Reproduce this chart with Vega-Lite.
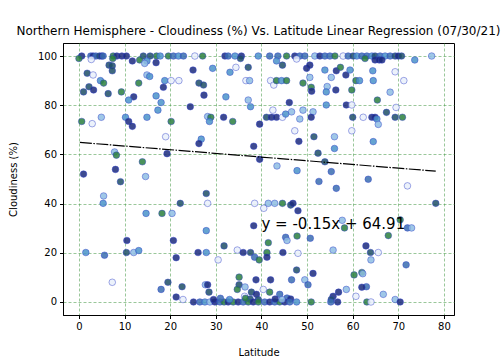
{
 "$schema": "https://vega.github.io/schema/vega-lite/v6.json",
 "width": 391, "height": 272,
 "autosize": "none",
 "padding": {"left": 63, "top": 43, "right": 50, "bottom": 45},
 "background": "white",
 "title": {"text": "Northern Hemisphere - Cloudiness (%) Vs. Latitude Linear Regression (07/30/21)", "font": "DejaVu Sans", "fontSize": 12, "fontWeight": "normal", "color": "black", "offset": 5, "anchor": "middle"},
 "config": {
  "view": {"stroke": "black", "strokeWidth": 1},
  "axis": {"labelFont": "DejaVu Sans", "labelFontSize": 10, "labelColor": "black", "titleFont": "DejaVu Sans", "titleFontSize": 10, "titleFontWeight": "normal", "titleColor": "black", "domainColor": "black", "tickColor": "black", "tickSize": 3.5, "grid": true, "gridColor": "#4a9a4a", "gridOpacity": 0.8, "gridDash": [3, 2], "gridWidth": 0.7, "labelPadding": 3}
 },
 "encoding": {
  "x": {"field": "lat", "type": "quantitative", "scale": {"domain": [-3.5, 82.2], "nice": false, "zero": false}, "axis": {"values": [0, 10, 20, 30, 40, 50, 60, 70, 80], "title": "Latitude", "titlePadding": 16}},
  "y": {"field": "cloud", "type": "quantitative", "scale": {"domain": [-5.3, 105.3], "nice": false, "zero": false}, "axis": {"values": [0, 20, 40, 60, 80, 100], "title": "Cloudiness (%)", "titlePadding": 19}}
 },
 "layer": [
  {
   "data": {"values": [
    {"lat":0.6,"cloud":100,"c":"n"},{"lat":2.6,"cloud":100,"c":"s"},{"lat":3.1,"cloud":100,"c":"n"},{"lat":3.7,"cloud":100,"c":"s"},{"lat":4.5,"cloud":100,"c":"t"},{"lat":5,"cloud":100,"c":"n"},{"lat":5.3,"cloud":100,"c":"s"},{"lat":7.5,"cloud":100,"c":"g"},{"lat":8.3,"cloud":100,"c":"n"},{"lat":9.4,"cloud":100,"c":"n"},{"lat":10.4,"cloud":100,"c":"n"},{"lat":14.1,"cloud":100,"c":"t"},{"lat":15.6,"cloud":100,"c":"t"},{"lat":17,"cloud":100,"c":"g"},{"lat":17.8,"cloud":100,"c":"m"},{"lat":19.6,"cloud":100,"c":"g"},{"lat":20.7,"cloud":100,"c":"s"},{"lat":21.8,"cloud":100,"c":"m"},{"lat":22.9,"cloud":100,"c":"s"},{"lat":25.4,"cloud":100,"c":"p"},
    {"lat":27.1,"cloud":100,"c":"g"},{"lat":32,"cloud":100,"c":"n"},{"lat":32.7,"cloud":100,"c":"s"},{"lat":34.2,"cloud":100,"c":"m"},{"lat":35.6,"cloud":100,"c":"n"},{"lat":39.3,"cloud":100,"c":"m"},{"lat":41.8,"cloud":100,"c":"s"},{"lat":43.6,"cloud":100,"c":"s"},{"lat":45.5,"cloud":100,"c":"g"},{"lat":47.3,"cloud":100,"c":"n"},{"lat":48.4,"cloud":100,"c":"s"},{"lat":49.5,"cloud":100,"c":"s"},{"lat":51.7,"cloud":100,"c":"l"},{"lat":52.8,"cloud":100,"c":"n"},{"lat":53.9,"cloud":100,"c":"s"},{"lat":55,"cloud":100,"c":"s"},{"lat":56.1,"cloud":100,"c":"g"},{"lat":57.9,"cloud":100,"c":"p"},{"lat":59,"cloud":100,"c":"s"},
    {"lat":60.1,"cloud":100,"c":"t"},{"lat":60.9,"cloud":100,"c":"m"},{"lat":62,"cloud":100,"c":"s"},{"lat":63.1,"cloud":100,"c":"s"},{"lat":64.2,"cloud":100,"c":"m"},{"lat":64.9,"cloud":100,"c":"t"},{"lat":66,"cloud":100,"c":"s"},{"lat":67.1,"cloud":100,"c":"m"},{"lat":68.2,"cloud":100,"c":"s"},{"lat":69.3,"cloud":100,"c":"t"},{"lat":70,"cloud":100,"c":"n"},{"lat":70.7,"cloud":100,"c":"t"},{"lat":77.3,"cloud":100,"c":"l"},
    {"lat":0,"cloud":99,"c":"g"},{"lat":2.7,"cloud":98.6,"c":"p"},{"lat":7.4,"cloud":99,"c":"g"},{"lat":11.7,"cloud":98,"c":"n"},{"lat":13.3,"cloud":98.4,"c":"g"},{"lat":14.9,"cloud":98,"c":"m"},{"lat":16.9,"cloud":97.3,"c":"n"},{"lat":6.6,"cloud":96.3,"c":"t"},{"lat":7.3,"cloud":96,"c":"t"},{"lat":14.4,"cloud":97,"c":"l"},{"lat":1.8,"cloud":93,"c":"t"},{"lat":3.1,"cloud":92.3,"c":"p"},{"lat":7.3,"cloud":94,"c":"t"},{"lat":25,"cloud":94.3,"c":"n"},{"lat":14.9,"cloud":92.3,"c":"l"},{"lat":15.5,"cloud":91.7,"c":"m"},{"lat":4.7,"cloud":90,"c":"m"},{"lat":5.4,"cloud":89,"c":"g"},{"lat":13.1,"cloud":89,"c":"g"},{"lat":18.8,"cloud":90,"c":"m"},{"lat":20.2,"cloud":90,"c":"p"},{"lat":21.9,"cloud":90,"c":"p"},{"lat":26.3,"cloud":89,"c":"t"},{"lat":2.2,"cloud":87.5,"c":"t"},{"lat":3.2,"cloud":86.2,"c":"n"},{"lat":1,"cloud":85.4,"c":"t"},{"lat":9.3,"cloud":85.4,"c":"g"},{"lat":6.4,"cloud":84.7,"c":"t"},{"lat":18.5,"cloud":87.3,"c":"n"},{"lat":27.3,"cloud":88.2,"c":"t"},{"lat":12,"cloud":83.4,"c":"n"},{"lat":10.9,"cloud":82.1,"c":"m"},{"lat":16.9,"cloud":83.8,"c":"m"},{"lat":18,"cloud":81.1,"c":"m"},{"lat":24.4,"cloud":79.4,"c":"n"},{"lat":17.3,"cloud":78,"c":"m"},{"lat":28.2,"cloud":75.4,"c":"l"},{"lat":0.6,"cloud":73.4,"c":"g"},{"lat":2.9,"cloud":72.5,"c":"p"},{"lat":4.9,"cloud":75.1,"c":"l"},{"lat":10.2,"cloud":75.1,"c":"m"},{"lat":10.9,"cloud":73.4,"c":"n"},{"lat":11.7,"cloud":71.4,"c":"n"},{"lat":14.9,"cloud":75.1,"c":"m"},{"lat":20.2,"cloud":73.4,"c":"g"},{"lat":19,"cloud":67.2,"c":"p"},{"lat":26.8,"cloud":66.2,"c":"m"},{"lat":26.3,"cloud":64.4,"c":"n"},{"lat":7.8,"cloud":61,"c":"l"},{"lat":8.2,"cloud":59.7,"c":"g"},{"lat":19.3,"cloud":60.3,"c":"n"},
    {"lat":35.4,"cloud":99,"c":"t"},{"lat":43.3,"cloud":98,"c":"m"},{"lat":44.6,"cloud":96.3,"c":"t"},{"lat":47.7,"cloud":98.8,"c":"p"},{"lat":49.9,"cloud":95,"c":"n"},{"lat":50.6,"cloud":96.3,"c":"n"},{"lat":29.3,"cloud":95,"c":"m"},{"lat":33.1,"cloud":93.4,"c":"m"},{"lat":34.4,"cloud":95.4,"c":"p"},{"lat":37.1,"cloud":95.4,"c":"t"},{"lat":53.9,"cloud":94.3,"c":"m"},{"lat":56.4,"cloud":94,"c":"n"},{"lat":57.3,"cloud":95.4,"c":"g"},{"lat":58.5,"cloud":92.3,"c":"n"},{"lat":36.6,"cloud":90,"c":"p"},{"lat":37.4,"cloud":90,"c":"l"},{"lat":42,"cloud":90,"c":"p"},{"lat":42.7,"cloud":88.2,"c":"p"},{"lat":43.3,"cloud":90,"c":"g"},{"lat":44.4,"cloud":90,"c":"m"},{"lat":45.5,"cloud":90,"c":"g"},{"lat":50.6,"cloud":91.3,"c":"l"},{"lat":55.3,"cloud":91.3,"c":"l"},{"lat":49.1,"cloud":89,"c":"g"},{"lat":50.9,"cloud":87.3,"c":"g"},{"lat":54.4,"cloud":87.6,"c":"l"},{"lat":51,"cloud":85.7,"c":"n"},{"lat":56.3,"cloud":86.2,"c":"n"},{"lat":54.2,"cloud":85.4,"c":"m"},{"lat":27.4,"cloud":84.1,"c":"n"},{"lat":32.2,"cloud":83.4,"c":"m"},{"lat":37.1,"cloud":82.1,"c":"l"},{"lat":37.6,"cloud":79.4,"c":"m"},{"lat":46.1,"cloud":81.1,"c":"n"},{"lat":42.5,"cloud":78,"c":"p"},{"lat":46.6,"cloud":77.3,"c":"l"},{"lat":49.1,"cloud":78,"c":"l"},{"lat":51.3,"cloud":77.3,"c":"l"},{"lat":54.2,"cloud":80.1,"c":"m"},{"lat":58.6,"cloud":80.1,"c":"n"},{"lat":28.9,"cloud":75.1,"c":"g"},{"lat":28.6,"cloud":73.4,"c":"m"},{"lat":31.7,"cloud":75.1,"c":"n"},{"lat":33.7,"cloud":73.4,"c":"g"},{"lat":41.1,"cloud":75.1,"c":"t"},{"lat":42.2,"cloud":75.1,"c":"n"},{"lat":43.3,"cloud":75.1,"c":"n"},{"lat":44.6,"cloud":75.1,"c":"p"},{"lat":45.3,"cloud":76.4,"c":"m"},{"lat":48.4,"cloud":74.4,"c":"l"},{"lat":50.9,"cloud":75.1,"c":"n"},{"lat":39.6,"cloud":72.3,"c":"n"},{"lat":47.3,"cloud":69.6,"c":"p"},{"lat":56,"cloud":67.2,"c":"l"},{"lat":51.5,"cloud":67.2,"c":"t"},{"lat":48.2,"cloud":65.3,"c":"n"},{"lat":38.3,"cloud":63.3,"c":"n"},{"lat":52.4,"cloud":60.5,"c":"t"},{"lat":56,"cloud":62.4,"c":"m"},
    {"lat":62.7,"cloud":99,"c":"g"},{"lat":64.9,"cloud":98.4,"c":"n"},{"lat":65.8,"cloud":98.4,"c":"n"},{"lat":66.4,"cloud":98.4,"c":"n"},{"lat":73.6,"cloud":98.4,"c":"m"},{"lat":59.4,"cloud":94.3,"c":"m"},{"lat":64.4,"cloud":94,"c":"m"},{"lat":69.3,"cloud":93.6,"c":"p"},{"lat":60.7,"cloud":90,"c":"g"},{"lat":61.5,"cloud":90,"c":"m"},{"lat":64.5,"cloud":90,"c":"m"},{"lat":71.2,"cloud":90,"c":"p"},{"lat":59.8,"cloud":86.2,"c":"g"},{"lat":68.2,"cloud":85.3,"c":"l"},{"lat":65.4,"cloud":82.1,"c":"g"},{"lat":59.8,"cloud":80.1,"c":"p"},{"lat":69.5,"cloud":79.1,"c":"p"},{"lat":67.4,"cloud":77.1,"c":"t"},{"lat":60,"cloud":75.1,"c":"t"},{"lat":62.3,"cloud":75.1,"c":"p"},{"lat":64.2,"cloud":75.1,"c":"n"},{"lat":64.9,"cloud":75.1,"c":"n"},{"lat":65.3,"cloud":74.4,"c":"m"},{"lat":65.6,"cloud":72.2,"c":"l"},{"lat":69.3,"cloud":75.1,"c":"t"},{"lat":70.9,"cloud":75.1,"c":"g"},{"lat":59.8,"cloud":69.6,"c":"p"},{"lat":64.5,"cloud":65.2,"c":"m"},
    {"lat":1,"cloud":52,"c":"n"},{"lat":8,"cloud":53.9,"c":"n"},{"lat":13.9,"cloud":57,"c":"g"},{"lat":9.1,"cloud":48.9,"c":"t"},{"lat":14.6,"cloud":51,"c":"l"},{"lat":5.4,"cloud":43.1,"c":"l"},{"lat":5.3,"cloud":40.1,"c":"m"},{"lat":14.7,"cloud":36,"c":"m"},{"lat":18.2,"cloud":36,"c":"g"},{"lat":20.4,"cloud":36,"c":"l"},{"lat":22.2,"cloud":40.1,"c":"t"},{"lat":27.9,"cloud":44.1,"c":"t"},{"lat":28.2,"cloud":40.1,"c":"p"},{"lat":27.9,"cloud":29,"c":"m"},{"lat":10.5,"cloud":25,"c":"n"},{"lat":20.7,"cloud":25,"c":"n"},{"lat":1.5,"cloud":20.1,"c":"m"},{"lat":5.6,"cloud":19,"c":"s"},{"lat":10.4,"cloud":20.1,"c":"t"},{"lat":12,"cloud":20.1,"c":"l"},{"lat":13.1,"cloud":20.9,"c":"m"},{"lat":21.3,"cloud":18,"c":"n"},{"lat":26.1,"cloud":20.1,"c":"n"},{"lat":27.9,"cloud":20.1,"c":"m"},{"lat":7.3,"cloud":8,"c":"p"},{"lat":19.5,"cloud":8,"c":"t"},{"lat":18,"cloud":5.1,"c":"s"},{"lat":22.6,"cloud":6.2,"c":"t"},{"lat":21.3,"cloud":2,"c":"n"},{"lat":22.8,"cloud":1,"c":"p"},{"lat":27.7,"cloud":7,"c":"l"},{"lat":28.2,"cloud":7,"c":"n"},{"lat":28.5,"cloud":4,"c":"t"},
    {"lat":39.6,"cloud":58,"c":"n"},{"lat":43.4,"cloud":55.3,"c":"l"},{"lat":47.8,"cloud":53.4,"c":"m"},{"lat":53.9,"cloud":57,"c":"t"},{"lat":55.3,"cloud":53,"c":"s"},{"lat":52.6,"cloud":49,"c":"s"},{"lat":56.4,"cloud":46.2,"c":"s"},{"lat":38.5,"cloud":40.1,"c":"p"},{"lat":40.5,"cloud":38.1,"c":"p"},{"lat":41.5,"cloud":40.1,"c":"l"},{"lat":42.9,"cloud":40.1,"c":"l"},{"lat":44.6,"cloud":40.1,"c":"g"},{"lat":46.4,"cloud":39.4,"c":"t"},{"lat":46.9,"cloud":40.1,"c":"n"},{"lat":48,"cloud":37.1,"c":"n"},{"lat":38.3,"cloud":31,"c":"n"},{"lat":41.5,"cloud":24.1,"c":"g"},{"lat":45.3,"cloud":26.3,"c":"s"},{"lat":45.6,"cloud":25,"c":"l"},{"lat":47.8,"cloud":26.8,"c":"g"},{"lat":50.7,"cloud":25.9,"c":"s"},{"lat":57.7,"cloud":33.2,"c":"l"},{"lat":58.2,"cloud":30.1,"c":"g"},{"lat":55.7,"cloud":21.1,"c":"l"},{"lat":31.8,"cloud":22.8,"c":"t"},{"lat":34.7,"cloud":21.1,"c":"p"},{"lat":36,"cloud":20.1,"c":"n"},{"lat":37.6,"cloud":20.1,"c":"t"},{"lat":38.5,"cloud":18.2,"c":"s"},{"lat":39.5,"cloud":17.1,"c":"g"},{"lat":41.2,"cloud":20.1,"c":"g"},{"lat":41.2,"cloud":18.2,"c":"n"},{"lat":44.7,"cloud":20.1,"c":"n"},{"lat":48,"cloud":19.8,"c":"p"},{"lat":30.5,"cloud":17.1,"c":"p"},{"lat":47.7,"cloud":13,"c":"t"},{"lat":51.3,"cloud":11.6,"c":"n"},{"lat":38.8,"cloud":9,"c":"n"},{"lat":35.1,"cloud":10.1,"c":"g"},{"lat":35.1,"cloud":7,"c":"t"},{"lat":36.4,"cloud":6.1,"c":"l"},{"lat":34.7,"cloud":5.1,"c":"g"},{"lat":42,"cloud":9,"c":"n"},{"lat":46.6,"cloud":9,"c":"s"},{"lat":49.5,"cloud":9,"c":"l"},{"lat":50.2,"cloud":7,"c":"s"},{"lat":40.4,"cloud":5.1,"c":"p"},{"lat":41.8,"cloud":4,"c":"g"},{"lat":44,"cloud":3.1,"c":"s"},{"lat":55.7,"cloud":2.3,"c":"n"},{"lat":55.3,"cloud":1,"c":"t"},{"lat":58.6,"cloud":5.1,"c":"l"},{"lat":37.8,"cloud":4,"c":"t"},{"lat":38.9,"cloud":3.1,"c":"n"},{"lat":36.3,"cloud":2.3,"c":"p"},{"lat":45.6,"cloud":1.6,"c":"s"},{"lat":46.4,"cloud":1.2,"c":"n"},{"lat":37.5,"cloud":1.2,"c":"t"},{"lat":39.3,"cloud":1,"c":"t"},
    {"lat":63.4,"cloud":49.9,"c":"s"},{"lat":72,"cloud":47.2,"c":"p"},{"lat":78.2,"cloud":40.1,"c":"t"},{"lat":70.4,"cloud":33.4,"c":"g"},{"lat":67.8,"cloud":27,"c":"g"},{"lat":72,"cloud":30.1,"c":"s"},{"lat":72.9,"cloud":30.1,"c":"l"},{"lat":62.9,"cloud":22.8,"c":"n"},{"lat":63.9,"cloud":20.1,"c":"t"},{"lat":65.6,"cloud":20.1,"c":"p"},{"lat":64,"cloud":17.1,"c":"l"},{"lat":71.7,"cloud":15.1,"c":"s"},{"lat":60.3,"cloud":11,"c":"g"},{"lat":62,"cloud":12,"c":"g"},{"lat":62.2,"cloud":11.5,"c":"l"},{"lat":63,"cloud":6.2,"c":"s"},{"lat":62,"cloud":6,"c":"n"},{"lat":56.9,"cloud":4,"c":"n"},{"lat":60.7,"cloud":2.3,"c":"p"},{"lat":66.7,"cloud":3.1,"c":"l"},{"lat":69.3,"cloud":1,"c":"l"},
    {"lat":25.1,"cloud":0,"c":"n"},{"lat":26.5,"cloud":0,"c":"s"},{"lat":27.6,"cloud":0,"c":"m"},{"lat":28.7,"cloud":0,"c":"l"},{"lat":29.8,"cloud":0,"c":"n"},{"lat":30.9,"cloud":0,"c":"s"},{"lat":31.8,"cloud":0,"c":"g"},{"lat":32.7,"cloud":0,"c":"n"},{"lat":33.8,"cloud":0,"c":"g"},{"lat":34.9,"cloud":0,"c":"n"},{"lat":36,"cloud":0,"c":"s"},{"lat":37.1,"cloud":0,"c":"g"},{"lat":38.2,"cloud":0,"c":"n"},{"lat":39.3,"cloud":0,"c":"g"},{"lat":40.7,"cloud":0,"c":"s"},{"lat":41.8,"cloud":0,"c":"n"},{"lat":42.9,"cloud":0,"c":"s"},{"lat":44,"cloud":0,"c":"g"},{"lat":45.1,"cloud":0,"c":"n"},{"lat":46.2,"cloud":0,"c":"s"},{"lat":47.7,"cloud":0,"c":"m"},{"lat":50.9,"cloud":0,"c":"g"},{"lat":55.2,"cloud":0,"c":"s"},{"lat":56.7,"cloud":0,"c":"n"},{"lat":63.1,"cloud":0,"c":"g"},{"lat":64,"cloud":0,"c":"p"},{"lat":70.4,"cloud":0,"c":"n"},
    {"lat":29.5,"cloud":1,"c":"n"},{"lat":31,"cloud":1.5,"c":"s"},{"lat":33,"cloud":1,"c":"m"},{"lat":36.5,"cloud":1.5,"c":"g"},{"lat":43,"cloud":1.2,"c":"n"},{"lat":44.5,"cloud":1,"c":"l"}
   ]},
   "mark": {"type": "point", "filled": true, "size": 44, "stroke": "#3040c8", "strokeWidth": 0.9, "strokeOpacity": 0.5, "fillOpacity": 0.85},
   "encoding": {
    "color": {"field": "c", "type": "nominal", "legend": null, "scale": {"domain": ["n", "t", "g", "s", "m", "l", "p"], "range": ["#1b2a7c", "#1f4f66", "#2a7f3e", "#3a6db0", "#4a93c9", "#8ebde3", "#e9f0fa"]}}
   }
  },
  {
   "data": {"values": [{"lat": 0.2, "cloud": 64.88}, {"lat": 78.2, "cloud": 53.18}]},
   "mark": {"type": "line", "color": "black", "strokeWidth": 1.2, "strokeDash": [12, 1.5, 1.5, 1.5]},
   "encoding": {}
  },
  {
   "data": {"values": [{"lat": 40, "cloud": 29.5, "label": "y = -0.15x + 64.91"}]},
   "mark": {"type": "text", "align": "left", "baseline": "alphabetic", "font": "DejaVu Sans", "fontSize": 15, "color": "black"},
   "encoding": {"text": {"field": "label"}}
  }
 ]
}
